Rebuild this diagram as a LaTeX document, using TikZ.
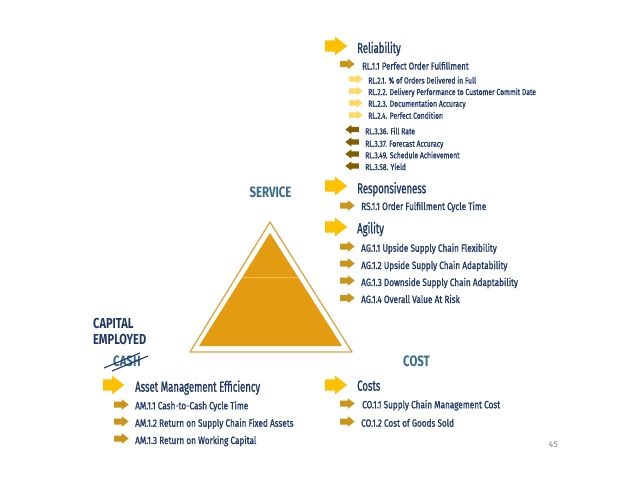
\documentclass[tikz,border=0pt]{standalone}
\usepackage{fontspec}
\setmainfont{Fira Sans}
\newfontfamily\headfont[FakeStretch=0.66,FakeBold=1.2]{Fira Sans}
\newfontfamily\itemfont[FakeStretch=0.78,FakeBold=1.2]{Fira Sans}
\newfontfamily\capsfont[FakeStretch=0.76]{Fira Sans}
\usetikzlibrary{shapes.arrows}

\definecolor{textnavy}{HTML}{1F3864}
\definecolor{headblue}{HTML}{3A6A8C}
\definecolor{bigyellow}{HTML}{FFC000}
\definecolor{smallgold}{HTML}{C9961A}
\definecolor{paleyellow}{HTML}{FFD966}
\definecolor{darkbrown}{HTML}{7F6000}
\definecolor{pyramid}{HTML}{E39B12}
\definecolor{pyramidline}{HTML}{DFA546}
\definecolor{pyramidlight}{HTML}{F2BE4E}

\tikzset{
  bigarrow/.style={single arrow, fill=bigyellow, inner xsep=0pt, inner ysep=5.5pt, minimum height=22pt,
    single arrow head extend=3.5pt, single arrow tip angle=75, anchor=tail},
  goldarrow/.style={single arrow, fill=smallgold, inner xsep=0pt, inner ysep=2.8pt, minimum height=14.5pt,
    single arrow head extend=2.3pt, single arrow tip angle=75, anchor=tail},
  palearrow/.style={goldarrow, fill=paleyellow, inner ysep=2.5pt, minimum height=13.5pt,
    single arrow head extend=1.8pt},
  backarrow/.style={goldarrow, fill=darkbrown, inner ysep=2.5pt, minimum height=13.5pt,
    single arrow head extend=2pt, shape border rotate=180, anchor=tip},
  mainitem/.style={anchor=base west, inner sep=0pt, text=textnavy,
    font=\headfont\fontsize{14.5}{16}\selectfont},
  subitem/.style={anchor=base west, inner sep=0pt, text=textnavy,
    font=\itemfont\fontsize{10.5}{12}\selectfont},
  rlitem/.style={anchor=base west, inner sep=0pt, text=textnavy,
    font=\itemfont\fontsize{8.7}{10}\selectfont},
  cornerhead/.style={anchor=base west, inner sep=0pt, text=headblue,
    font=\capsfont\bfseries\fontsize{15}{17}\selectfont},
}

\begin{document}
\begin{tikzpicture}[x=1pt,y=-1pt]
\useasboundingbox (0,0) rectangle (638,493);

% pyramid
\draw[pyramidline, line width=1.3pt, line join=round] (270,222) -- (352,352) -- (190,352) -- cycle;
\fill[pyramid] (270,233) -- (342,346) -- (199,346) -- cycle;
\draw[pyramidlight, line width=0.6pt] (242,277) -- (298,277);

% corner labels
\node[cornerhead, anchor=base] (service) at (270.5,197) {SERVICE};
\node[cornerhead] (cost) at (403,366) {COST};
\node[cornerhead, text=textnavy, font=\capsfont\fontsize{14.5}{16}\selectfont\bfseries] (capital) at (93,328.5) {CAPITAL};
\node[cornerhead, text=textnavy, font=\capsfont\fontsize{14.5}{16}\selectfont\bfseries] (employed) at (93,344) {EMPLOYED};
\node[cornerhead] (cash) at (113,366.5) {CASH};
\draw[textnavy, line width=1.1pt] (104,368) -- (140,353);
\draw[textnavy, line width=1.1pt] (112,371) -- (148,356);

% reliability
\node[bigarrow] (arrrel) at (325,46) {};
\node[mainitem] (rel) at (357,53) {Reliability};
\node[goldarrow] (arrrl11) at (340,64) {};
\node[subitem, font=\itemfont\fontsize{10}{12}\selectfont] (rl11) at (362,69.5) {RL.1.1 Perfect Order Fulfillment};
\node[palearrow] (arrrl21) at (349,79) {};
\node[rlitem] (rl21) at (368,83.5) {RL.2.1. \% of Orders Delivered in Full};
\node[palearrow] (arrrl22) at (349,91) {};
\node[rlitem] (rl22) at (368,95) {RL.2.2. Delivery Performance to Customer Commit Date};
\node[palearrow] (arrrl23) at (349,103) {};
\node[rlitem] (rl23) at (368,106.7) {RL.2.3. Documentation Accuracy};
\node[palearrow] (arrrl24) at (349,115) {};
\node[rlitem] (rl24) at (368,118.7) {RL.2.4. Perfect Condition};
\node[backarrow] (arrrl336) at (345,129.5) {};
\node[rlitem] (rl336) at (365,134.3) {RL.3.36. Fill Rate};
\node[backarrow] (arrrl337) at (345,142) {};
\node[rlitem] (rl337) at (365,146.7) {RL.3.37. Forecast Accuracy};
\node[backarrow] (arrrl349) at (345,154) {};
\node[rlitem] (rl349) at (365,158.3) {RL.3.49. Schedule Achievement};
\node[backarrow] (arrrl358) at (345,166) {};
\node[rlitem] (rl358) at (365,170) {RL.3.58. Yield};

% responsiveness
\node[bigarrow] (arrresp) at (325,186) {};
\node[mainitem] (resp) at (357,193.3) {Responsiveness};
\node[goldarrow] (arrrs11) at (340,205.5) {};
\node[subitem] (rs11) at (361,210) {RS.1.1 Order Fulfillment Cycle Time};

% agility
\node[bigarrow] (arragil) at (325,227) {};
\node[mainitem] (agil) at (357,233.3) {Agility};
\node[goldarrow] (arrag11) at (340,246.5) {};
\node[subitem] (ag11) at (361,251.7) {AG.1.1 Upside Supply Chain Flexibility};
\node[goldarrow] (arrag12) at (340,263.5) {};
\node[subitem] (ag12) at (361,269) {AG.1.2 Upside Supply Chain Adaptability};
\node[goldarrow] (arrag13) at (340,280.5) {};
\node[subitem] (ag13) at (361,286) {AG.1.3 Downside Supply Chain Adaptability};
\node[goldarrow] (arrag14) at (340,298) {};
\node[subitem] (ag14) at (361,303) {AG.1.4 Overall Value At Risk};

% costs
\node[bigarrow] (arrcost) at (325,385) {};
\node[mainitem] (costs) at (357,390.7) {Costs};
\node[goldarrow] (arrco11) at (340,403.5) {};
\node[subitem] (co11) at (362,408.3) {CO.1.1 Supply Chain Management Cost};
\node[goldarrow] (arrco12) at (340,421.5) {};
\node[subitem] (co12) at (361,426.7) {CO.1.2 Cost of Goods Sold};

% asset management
\node[bigarrow, minimum height=21pt] (arrasset) at (103,385) {};
\node[mainitem] (asset) at (135,391.7) {Asset Management Efficiency};
\node[goldarrow] (arram11) at (114,404.5) {};
\node[subitem] (am11) at (135,409.3) {AM.1.1 Cash-to-Cash Cycle Time};
\node[goldarrow] (arram12) at (114,421.5) {};
\node[subitem] (am12) at (135,426.7) {AM.1.2 Return on Supply Chain Fixed Assets};
\node[goldarrow] (arram13) at (114,438.5) {};
\node[subitem] (am13) at (135,444) {AM.1.3 Return on Working Capital};

\node[anchor=base west, inner sep=0pt, text=black!45, font=\fontsize{9}{10}\selectfont] (pagenum) at (548.5,447) {45};
\end{tikzpicture}
\end{document}
